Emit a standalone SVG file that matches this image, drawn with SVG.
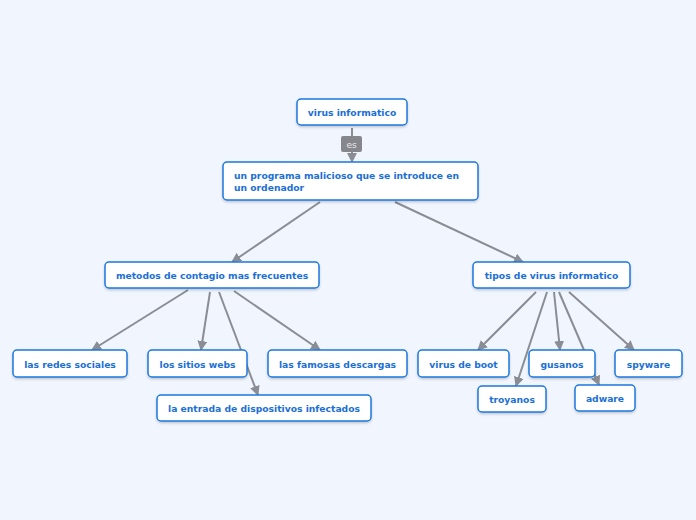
<svg xmlns="http://www.w3.org/2000/svg" width="696" height="520" viewBox="0 0 696 520">
<style>
.n rect{fill:#fff;stroke:#1d78de;stroke-width:1.5;filter:url(#sh)}
.n text{font-family:"DejaVu Sans",Verdana,sans-serif;font-weight:bold;font-size:9.2px;fill:#1b6fd6}
.c line{stroke:#8a8d94;stroke-width:2;marker-end:url(#ar)}
</style>
<defs>
<marker id="ar" viewBox="0 0 10 10" refX="9" refY="5" markerWidth="5" markerHeight="5" orient="auto"><path d="M0,0L10,5L0,10z" fill="#8a8d94"/></marker>
<filter id="sh" x="-10%" y="-20%" width="120%" height="150%"><feDropShadow dx="0" dy="1.5" stdDeviation="1" flood-color="#000" flood-opacity="0.2"/></filter>
</defs>
<rect width="696" height="520" fill="#f1f5fe"/>
<g class="c">
<line x1="352" y1="128" x2="352" y2="162"/>
<line x1="320" y1="202" x2="232" y2="262"/>
<line x1="395" y1="202" x2="523" y2="262"/>
<line x1="188" y1="290" x2="92" y2="350"/>
<line x1="210" y1="292" x2="201" y2="350"/>
<line x1="219" y1="292" x2="258" y2="395"/>
<line x1="234" y1="291" x2="320" y2="350"/>
<line x1="536" y1="292" x2="478" y2="350"/>
<line x1="547" y1="292" x2="516" y2="386"/>
<line x1="554" y1="292" x2="560" y2="350"/>
<line x1="559" y1="292" x2="599" y2="385"/>
<line x1="569" y1="292" x2="634" y2="350"/>
<rect x="341" y="136" width="21" height="16" rx="2" fill="#85878c"/>
<text x="351.5" y="147.5" text-anchor="middle" font-family="DejaVu Sans,sans-serif" font-size="9" fill="#e8e8e8">es</text>
</g>
<g id="n1" class="n"><rect x="297" y="99" width="110" height="26" rx="4"/><text x="352" y="116" text-anchor="middle">virus informatico</text></g>
<g id="n2" class="n"><rect x="223" y="162" width="255" height="38" rx="4"/><text x="234" y="179">un programa malicioso que se introduce en</text><text x="234" y="191">un ordenador</text></g>
<g id="n3" class="n"><rect x="105" y="262" width="214" height="26" rx="4"/><text x="212" y="279" text-anchor="middle">metodos de contagio mas frecuentes</text></g>
<g id="n4" class="n"><rect x="473" y="262" width="157" height="26" rx="4"/><text x="551.5" y="279" text-anchor="middle">tipos de virus informatico</text></g>
<g id="n5" class="n"><rect x="13" y="350" width="114" height="27" rx="4"/><text x="70" y="368" text-anchor="middle">las redes sociales</text></g>
<g id="n6" class="n"><rect x="148" y="350" width="99" height="27" rx="4"/><text x="197.5" y="368" text-anchor="middle">los sitios webs</text></g>
<g id="n7" class="n"><rect x="268" y="350" width="139" height="27" rx="4"/><text x="337.5" y="368" text-anchor="middle">las famosas descargas</text></g>
<g id="n8" class="n"><rect x="157" y="395" width="214" height="26" rx="4"/><text x="264" y="412" text-anchor="middle">la entrada de dispositivos infectados</text></g>
<g id="n9" class="n"><rect x="418" y="350" width="91" height="27" rx="4"/><text x="463.5" y="368" text-anchor="middle">virus de boot</text></g>
<g id="n10" class="n"><rect x="529" y="350" width="66" height="27" rx="4"/><text x="562" y="368" text-anchor="middle">gusanos</text></g>
<g id="n11" class="n"><rect x="615" y="350" width="67" height="27" rx="4"/><text x="648.5" y="368" text-anchor="middle">spyware</text></g>
<g id="n12" class="n"><rect x="478" y="386" width="68" height="26" rx="4"/><text x="512" y="403" text-anchor="middle">troyanos</text></g>
<g id="n13" class="n"><rect x="575" y="385" width="60" height="26" rx="4"/><text x="605" y="402" text-anchor="middle">adware</text></g>
</svg>
